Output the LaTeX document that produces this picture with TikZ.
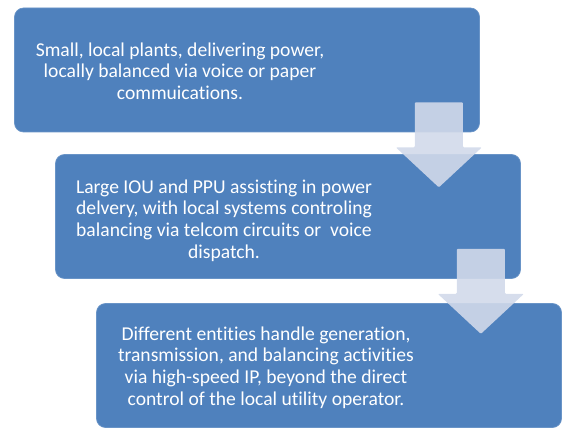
\documentclass[tikz,border=0pt]{standalone}
\usepackage{fontspec}
\setmainfont[Ligatures=NoCommon]{Carlito}
\definecolor{boxblue}{RGB}{79,129,189}
\definecolor{arrowfill}{RGB}{209,217,234}
\begin{document}
\begin{tikzpicture}[x=1pt,y=-1pt,
  stepbox/.style={rectangle, rounded corners=9pt, fill=boxblue, draw=boxblue!85!white, line width=0.7pt,
    minimum width=465pt, minimum height=124pt, inner sep=0pt},
  steptext/.style={text=white, align=center, font=\fontsize{19.6}{21.6}\selectfont, inner sep=0pt},
  blockarrow/.style={fill=arrowfill, fill opacity=0.9, draw=none}]
\useasboundingbox (0,0) rectangle (577,438);
\node[stepbox] (b1) at (247,70) {};
\node[stepbox] (b2) at (288,216.5) {};
\node[stepbox] (b3) at (329,365.5) {};
\node[steptext] (t1) at (180,71) {Small, local plants, delivering power,\\locally balanced via voice or paper\\commuications.};
\node[steptext] (t2) at (224,220.5) {Large IOU and PPU assisting in power\\delvery, with local systems controling\\balancing via telcom circuits or\ \ voice\\dispatch.};
\node[steptext] (t3) at (266,367.5) {Different entities handle generation,\\transmission, and balancing activities\\via high-speed IP, beyond the direct\\control of the local utility operator.};
% block arrows
\coordinate (a1) at ([xshift=-41pt,yshift=30pt]b1.south east);
\coordinate (a2) at ([xshift=-40pt,yshift=30pt]b2.south east);
\foreach \a in {a1,a2}{
  \fill[blockarrow, rounded corners=1pt] ([xshift=-24pt]\a) -- ([xshift=24pt]\a) -- ([xshift=24pt,yshift=-45pt]\a)
    -- ([xshift=43pt,yshift=-45pt]\a) -- ([yshift=-85pt]\a) -- ([xshift=-43pt,yshift=-45pt]\a)
    -- ([xshift=-24pt,yshift=-45pt]\a) -- cycle;
}
\end{tikzpicture}
\end{document}
